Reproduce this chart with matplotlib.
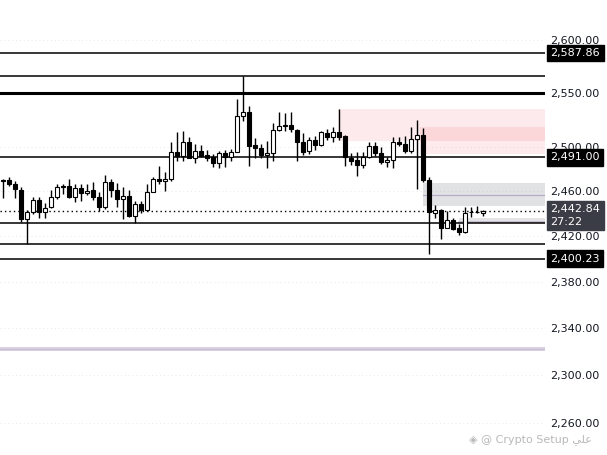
import matplotlib
matplotlib.use("Agg")
import matplotlib.pyplot as plt
import matplotlib.transforms as mtransforms
from matplotlib.ticker import NullLocator, FixedLocator

# candle data (oldest -> newest)
opens = [2469.9, 2469.9, 2466.3, 2461.3, 2435.3, 2441.2, 2452.5, 2441.8, 2445.9, 2455.4,
         2464.5, 2464.5, 2454.8, 2463.3, 2458.6, 2460.9, 2455.4, 2445.9, 2468.1, 2461.5,
         2453.0, 2456.2, 2438.3, 2448.9, 2443.0, 2459.7, 2471.7, 2469.3, 2471.4, 2495.8,
         2491.8, 2505.2, 2490.7, 2497.0, 2493.1, 2490.9, 2485.9, 2494.9, 2491.6, 2496.1,
         2529.1, 2532.8, 2502.5, 2499.5, 2492.9, 2494.9, 2516.0, 2520.4, 2520.6, 2516.3,
         2505.2, 2496.3, 2506.8, 2502.2, 2513.5, 2509.8, 2514.2, 2510.8, 2490.0, 2488.8,
         2483.7, 2490.9, 2501.6, 2494.9, 2486.6, 2488.6, 2505.2, 2503.1, 2497.0, 2507.7,
         2511.7, 2470.5, 2440.8, 2443.0, 2427.6, 2434.7, 2427.3, 2423.7, 2441.6, 2441.8,
         2440.6]
highs = [2470.8, 2473.5, 2469.0, 2463.6, 2443.0, 2454.8, 2455.4, 2449.4, 2461.5, 2466.3,
         2466.3, 2471.1, 2466.3, 2466.3, 2466.9, 2468.7, 2459.1, 2475.3, 2471.7, 2467.5,
         2463.8, 2460.9, 2451.8, 2451.8, 2466.9, 2473.5, 2483.2, 2477.7, 2504.6, 2514.4,
         2514.7, 2509.8, 2503.4, 2502.5, 2497.4, 2494.0, 2497.0, 2497.4, 2498.5, 2544.3,
         2566.2, 2538.3, 2508.3, 2503.4, 2506.2, 2522.3, 2532.8, 2531.9, 2532.8, 2516.7,
         2513.5, 2509.2, 2510.8, 2515.4, 2516.7, 2519.0, 2535.3, 2511.2, 2494.5, 2496.1,
         2495.4, 2504.6, 2504.6, 2500.0, 2491.6, 2509.8, 2509.4, 2510.8, 2518.4, 2525.5,
         2517.7, 2473.5, 2447.7, 2444.1, 2442.1, 2436.5, 2430.6, 2445.9, 2445.9, 2447.4,
         2443.0]
lows = [2454.5, 2464.5, 2454.5, 2432.8, 2412.9, 2439.9, 2436.5, 2435.9, 2445.4, 2453.0,
        2457.7, 2454.3, 2450.1, 2451.8, 2456.6, 2452.5, 2442.3, 2444.1, 2454.8, 2445.9,
        2435.3, 2437.2, 2431.5, 2440.6, 2442.3, 2459.1, 2466.9, 2460.2, 2469.3, 2488.0,
        2487.3, 2490.2, 2485.7, 2490.9, 2488.0, 2482.5, 2481.6, 2482.5, 2488.0, 2495.4,
        2523.9, 2483.4, 2490.4, 2490.7, 2481.4, 2488.0, 2514.7, 2515.1, 2514.0, 2488.0,
        2493.4, 2494.0, 2497.9, 2501.6, 2507.1, 2505.2, 2506.8, 2483.1, 2484.3, 2474.1,
        2481.6, 2490.4, 2492.2, 2485.2, 2481.9, 2481.6, 2501.6, 2495.2, 2494.5, 2461.8,
        2468.4, 2404.6, 2436.5, 2417.9, 2427.0, 2425.9, 2420.8, 2422.8, 2436.7, 2440.3,
        2438.1]
closes = [2469.0, 2466.3, 2461.8, 2435.0, 2441.2, 2452.5, 2441.8, 2445.4, 2455.4, 2463.8,
          2464.0, 2454.8, 2463.3, 2458.4, 2460.6, 2454.8, 2445.9, 2468.1, 2460.9, 2453.0,
          2456.2, 2437.7, 2448.9, 2443.0, 2459.7, 2471.7, 2469.3, 2471.7, 2495.8, 2492.0,
          2505.2, 2490.7, 2496.5, 2492.5, 2490.4, 2485.5, 2494.9, 2490.9, 2496.1, 2528.7,
          2532.8, 2501.6, 2499.1, 2492.9, 2495.2, 2516.0, 2519.7, 2519.9, 2516.5, 2504.8,
          2496.1, 2506.8, 2502.0, 2513.8, 2509.2, 2514.4, 2509.8, 2490.9, 2488.0, 2483.7,
          2490.9, 2501.6, 2494.7, 2486.4, 2488.8, 2504.6, 2502.9, 2497.0, 2507.7, 2511.7,
          2469.9, 2441.2, 2443.0, 2427.6, 2434.7, 2426.6, 2423.7, 2440.6, 2441.2, 2441.4,
          2442.84]

# horizontal levels drawn on the chart
levels = [2587.86, 2566.2, 2491.0, 2431.5, 2412.9, 2400.23]
thick_level = 2550.0
last_price = 2442.84
countdown = "27:22"
marked_levels = [2587.86, 2491.0, 2400.23]

# zones: (start candle, low, high)
sell_zones = [(55.8, 2505.5, 2535.3), (69.45, 2494.0, 2518.4)]
grey_zone = (69.9, 2447.4, 2467.8)
grey_mid = 2457.0
grey_strip = (76.0, 2431.8, 2435.9)
lavender_band = (2320.7, 2324.1)

price_ticks = [2600, 2550, 2500, 2460, 2420, 2380, 2340, 2300, 2260]

fig = plt.figure(figsize=(6.07, 4.55), dpi=100)
ax = fig.add_axes([0, 0, 545 / 607, 1])
ax.set_yscale("log")
x_left, x_right = -0.55, 90.28
ax.set_xlim(x_left, x_right)
ax.set_ylim(2233.9, 2638.5)

# faint dotted grid
for p in price_ticks:
    ax.axhline(p, color="#e9e9ee", lw=0.7, ls=(0, (1, 3)), zorder=0)

# zones
for start, lo, hi in sell_zones:
    ax.fill_between([start, x_right], lo, hi, color="#f23645", alpha=0.1, lw=0, zorder=1)
ax.fill_between([grey_zone[0], x_right], grey_zone[1], grey_zone[2],
                color="#787b86", alpha=0.22, lw=0, zorder=1)
ax.plot([grey_zone[0], x_right], [grey_mid, grey_mid], color="#b7a8c8", lw=0.8, zorder=1)
ax.fill_between([grey_strip[0], x_right], grey_strip[1], grey_strip[2],
                color="#787b86", alpha=0.2, lw=0, zorder=1)
ax.plot([grey_strip[0], x_right], [grey_strip[1] + 0.5] * 2, color="#c2b6d0", lw=1.2, zorder=1)
ax.axhspan(lavender_band[0], lavender_band[1], color="#d9d1e0", lw=0, zorder=1)
ax.axhline(sum(lavender_band) / 2, color="#c9bdd6", lw=0.8, zorder=1)

# levels
for lv in levels:
    ax.axhline(lv, color="black", lw=1.1, zorder=2)
ax.axhline(thick_level, color="black", lw=2.2, zorder=2)
ax.axhline(last_price, color="black", lw=1.0, ls=(0, (1, 2.2)), zorder=2)

# candles
idx = list(range(len(opens)))
ax.vlines(idx, lows, highs, color="black", lw=1.0, zorder=3)
for i in idx:
    o, c = opens[i], closes[i]
    up = c >= o
    h = abs(c - o) if abs(c - o) > 0.3 else 0.3
    ax.bar(i, h, bottom=min(o, c), width=0.7,
           facecolor="white" if up else "black", edgecolor="black", lw=0.8, zorder=4)

# right price scale
ax.yaxis.set_ticks_position("right")
ax.yaxis.set_major_locator(FixedLocator(price_ticks))
ax.yaxis.set_minor_locator(NullLocator())
ax.set_yticklabels([f"{p:,.2f}" for p in price_ticks])
ax.tick_params(axis="y", length=0, pad=4, labelsize=8, labelcolor="#131722")
ax.set_xticks([])
for s in ax.spines.values():
    s.set_visible(False)

trans = mtransforms.blended_transform_factory(ax.transAxes, ax.transData)
for lv in marked_levels:
    ax.annotate(f"{lv:,.2f}", xy=(1, lv), xycoords=trans, xytext=(4, 0),
                textcoords="offset points", va="center", ha="left", fontsize=8,
                color="white", annotation_clip=False, zorder=6,
                bbox=dict(boxstyle="square,pad=0.3", fc="black", ec="black"))
ax.annotate(f"{last_price:,.2f}\n{countdown}", xy=(1, last_price), xycoords=trans,
            xytext=(4, 4.6), textcoords="offset points", va="top", ha="left", fontsize=8,
            color="white", annotation_clip=False, zorder=6, linespacing=1.35,
            bbox=dict(boxstyle="square,pad=0.3", fc="#3a3d45", ec="#3a3d45"))

# watermark
fig.text(0.975, 0.033, "\u25c8 @ Crypto Setup \ufef2\ufee0\ufecb", ha="right", va="center",
         fontsize=8, color="#b9b9b9", family=["DejaVu Sans"])

fig.savefig("out.png", dpi=100)
